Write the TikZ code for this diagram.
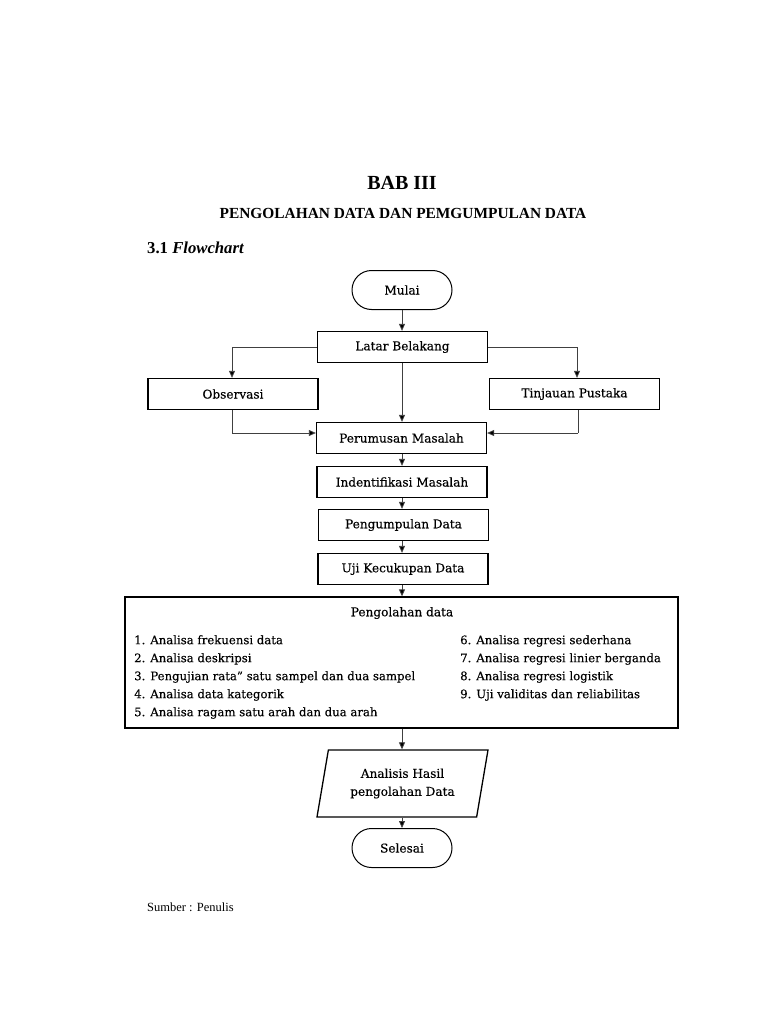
\documentclass[tikz,border=0pt]{standalone}
\usepackage{fontspec}
\setmainfont{Liberation Serif}
\newfontfamily\nodefont[FakeBold=0.35]{DejaVu Serif}
\usetikzlibrary{shapes.geometric,arrows.meta,positioning}
\tikzset{
  box/.style={draw, line width=1.3pt, minimum width=170pt, minimum height=31pt, inner sep=0pt, font=\nodefont\fontsize{12.1}{15}\selectfont},
  term/.style={draw, line width=1pt, rounded corners=19.5pt, minimum width=100pt, minimum height=39pt, inner sep=0pt, font=\nodefont\fontsize{12.1}{15}\selectfont},
  conn/.style={line width=0.8pt, draw=black!75, -{Triangle[length=7pt,width=6pt,fill=black]}},
  plain/.style={line width=0.8pt, draw=black!75},
  lst/.style={anchor=west, inner sep=0pt, font=\nodefont\fontsize{11.7}{18}\selectfont, align=left}
}
\begin{document}
\begin{tikzpicture}[x=1pt,y=-1pt]
\useasboundingbox (0,0) rectangle (768,1024);
\fill[white] (0,0) rectangle (768,1024);
% headings
\node[font=\fontsize{20}{24}\selectfont\bfseries] (bab) at (402,183) {BAB III};
\node[font=\fontsize{15.4}{18}\selectfont\bfseries] (sub) at (403,213) {PENGOLAHAN DATA DAN PEMGUMPULAN DATA};
\node[font=\fontsize{16.7}{19}\selectfont\bfseries, anchor=west, inner sep=0pt] (sec) at (147,248) {3.1 \textit{Flowchart}};
% nodes
\node[term] (mulai) at (402,290) {Mulai};
\node[box] (latar) at (402.5,347) {Latar Belakang};
\node[box] (obs) at (233,394) {Observasi};
\node[box] (tinj) at (574.5,394) {Tinjauan Pustaka};
\node[box] (perm) at (401.5,438) {Perumusan Masalah};
\node[box] (ident) at (402,482) {Indentifikasi Masalah};
\node[box] (peng) at (403.5,525) {Pengumpulan Data};
\node[box] (uji) at (403,569) {Uji Kecukupan Data};
\node[draw, line width=1.3pt, minimum width=553pt, minimum height=131pt, inner sep=0pt] (olah) at (401.5,662.5) {};
\node[font=\nodefont\fontsize{12.1}{15}\selectfont] (olaht) at (402,613) {Pengolahan data};
\node[lst] (l1) at (134,677) {1. Analisa frekuensi data\\2. Analisa deskripsi\\3. Pengujian rata” satu sampel dan dua sampel\\4. Analisa data kategorik\\5. Analisa ragam satu arah dan dua arah};
\node[lst] (l2) at (460,668) {6. Analisa regresi sederhana\\7. Analisa regresi linier berganda\\8. Analisa regresi logistik\\9. Uji validitas dan reliabilitas};
\node[draw, line width=1.3pt, trapezium, trapezium left angle=75, trapezium right angle=105, trapezium stretches=true, minimum width=171pt, minimum height=67pt, inner sep=0pt, align=center, font=\nodefont\fontsize{12.1}{18}\selectfont] (anal) at (402.5,783.5) {Analisis Hasil\\pengolahan Data};
\node[term] (sel) at (402,848) {Selesai};
\node[anchor=west, inner sep=0pt, font=\fontsize{12.5}{15}\selectfont] (sumber) at (147,907) {Sumber : Penulis};
% connectors
\draw[conn] (mulai.south) -- (mulai.south |- latar.north);
\draw[conn] (latar.west) -| (obs.north -| 232,0);
\draw[conn] (latar.east) -| (tinj.north -| 577,0);
\draw[conn] (latar.south -| 402,0) -- (perm.north -| 402,0);
\coordinate (oc) at (232,433);
\coordinate (tc) at (578,433);
\draw[plain] (obs.south -| oc) -- (oc);
\draw[conn] (oc) -- (oc -| perm.west);
\draw[plain] (tinj.south -| tc) -- (tc);
\draw[conn] (tc) -- (tc -| perm.east);
\draw[conn] (perm.south -| 402,0) -- (ident.north -| 402,0);
\draw[conn] (ident.south -| 402,0) -- (peng.north -| 402,0);
\draw[conn] (peng.south -| 402,0) -- (uji.north -| 402,0);
\draw[conn] (uji.south -| 402,0) -- (olah.north -| 402,0);
\draw[conn] (olah.south -| 402,0) -- (anal.north -| 402,0);
\draw[conn] (anal.south -| 402,0) -- (sel.north -| 402,0);
\end{tikzpicture}
\end{document}
